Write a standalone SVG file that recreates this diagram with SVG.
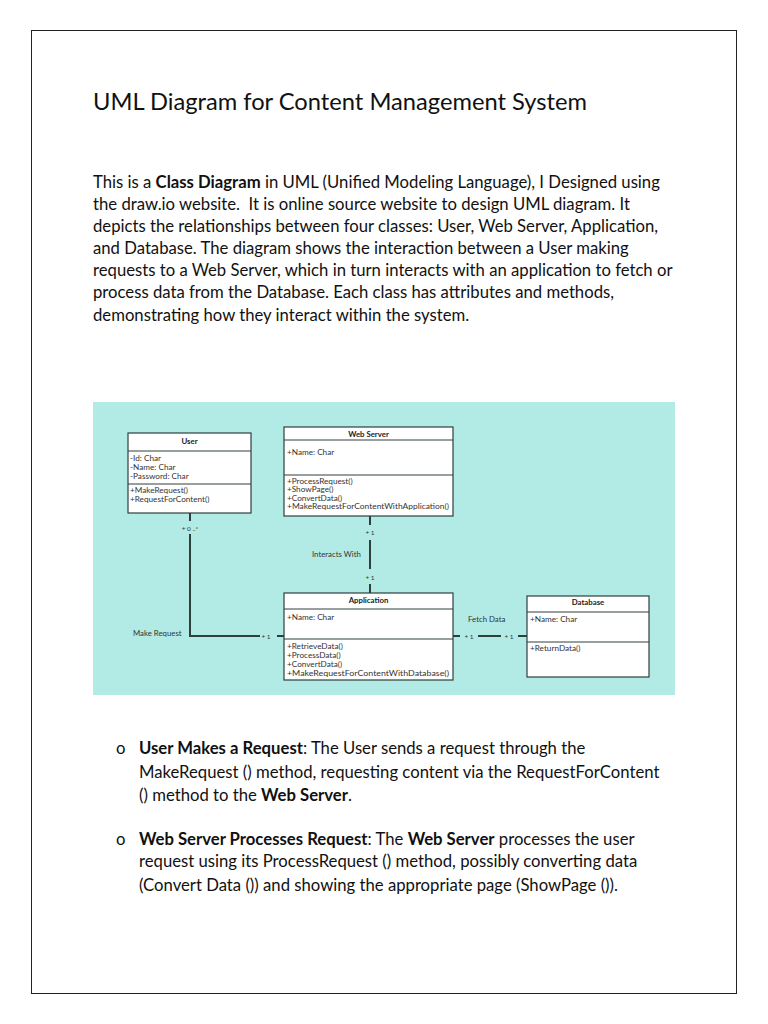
<svg xmlns="http://www.w3.org/2000/svg" width="768" height="1024" viewBox="0 0 768 1024">
<style>
.body{font-family:Lato,"Open Sans","Liberation Sans",sans-serif;font-size:16.7px;fill:#111}
.b{font-weight:bold}
.box{fill:#fff;stroke:#2f3f3f;stroke-width:1.2}
.sep{stroke:#2f3f3f;stroke-width:1}
.hd{font-family:Lato,"Liberation Sans",sans-serif;font-size:7.8px;font-weight:bold;fill:#222;text-anchor:middle}
.it{font-family:Lato,"Liberation Sans",sans-serif;font-size:8.2px;fill:#333}
.lbl{font-family:Lato,"Liberation Sans",sans-serif;font-size:7.8px;fill:#333}
.m{font-family:Lato,"Liberation Sans",sans-serif;font-size:6.5px;fill:#333;text-anchor:middle}
.ln{stroke:#2f3f3f;stroke-width:2;fill:none}
</style>
<rect x="0" y="0" width="768" height="1024" fill="#fff"/>
<rect x="31.5" y="30.5" width="705" height="963" fill="none" stroke="#222" stroke-width="1"/>
<text x="93" y="110" font-family="Lato,'Open Sans','Liberation Sans',sans-serif" font-size="23.7" fill="#111">UML Diagram for Content Management System</text>
<g class="body">
<text x="93" y="188">This is a <tspan class="b">Class Diagram</tspan> in UML (Unified Modeling Language), I Designed using</text>
<text x="93" y="210">the draw.io website.&#160; It is online source website to design UML diagram. It</text>
<text x="93" y="232">depicts the relationships between four classes: User, Web Server, Application,</text>
<text x="93" y="254">and Database. The diagram shows the interaction between a User making</text>
<text x="93" y="276">requests to a Web Server, which in turn interacts with an application to fetch or</text>
<text x="93" y="298">process data from the Database. Each class has attributes and methods,</text>
<text x="93" y="321">demonstrating how they interact within the system.</text>
</g>
<rect x="93" y="402" width="582" height="293" fill="#b2ebe6"/>
<g id="connectors">
<path class="ln" d="M190 513 V521 M190 534 V636 H260 M277 636 H284"/>
<path class="ln" d="M370 516 V525 M370 540 V569 M370 584 V593"/>
<path class="ln" d="M453 636 H460 M478 636 H501 M518 636 H527"/>
<text class="m" x="190" y="531">+ 0 ..*</text>
<text class="m" x="266" y="638.5">+ 1</text>
<text class="m" x="370" y="535">+ 1</text>
<text class="m" x="370" y="580">+ 1</text>
<text class="m" x="469" y="638.5">+ 1</text>
<text class="m" x="509" y="638.5">+ 1</text>
<text class="lbl" x="133" y="636">Make Request</text>
<text class="lbl" x="312" y="557">Interacts With</text>
<text class="lbl" x="468" y="622">Fetch Data</text>
</g>
<g id="user">
<rect class="box" x="128" y="433" width="123" height="80"/>
<line class="sep" x1="128" y1="451" x2="251" y2="451"/>
<line class="sep" x1="128" y1="484" x2="251" y2="484"/>
<text class="hd" x="189.5" y="444">User</text>
<text class="it" x="130" y="461">-Id: Char</text>
<text class="it" x="130" y="470">-Name: Char</text>
<text class="it" x="130" y="479">-Password: Char</text>
<text class="it" x="130" y="493" fill="#222">+MakeRequest()</text>
<text class="it" x="130" y="502">+RequestForContent()</text>
</g>
<g id="webserver">
<rect class="box" x="284" y="427" width="169" height="89"/>
<line class="sep" x1="284" y1="440" x2="453" y2="440"/>
<line class="sep" x1="284" y1="475" x2="453" y2="475"/>
<text class="hd" x="368.5" y="437">Web Server</text>
<text class="it" x="287" y="455">+Name: Char</text>
<text class="it" x="287" y="484">+ProcessRequest()</text>
<text class="it" x="287" y="492.3">+ShowPage()</text>
<text class="it" x="287" y="500.6">+ConvertData()</text>
<text class="it" x="287" y="509" textLength="162" lengthAdjust="spacingAndGlyphs">+MakeRequestForContentWithApplication()</text>
</g>
<g id="application">
<rect class="box" x="284" y="593" width="169" height="87"/>
<line class="sep" x1="284" y1="609" x2="453" y2="609"/>
<line class="sep" x1="284" y1="639" x2="453" y2="639"/>
<text class="hd" x="368.5" y="603">Application</text>
<text class="it" x="287" y="620">+Name: Char</text>
<text class="it" x="287" y="648.5">+RetrieveData()</text>
<text class="it" x="287" y="657.5">+ProcessData()</text>
<text class="it" x="287" y="666.5">+ConvertData()</text>
<text class="it" x="287" y="675.5" textLength="162" lengthAdjust="spacingAndGlyphs">+MakeRequestForContentWithDatabase()</text>
</g>
<g id="database">
<rect class="box" x="527" y="596" width="122" height="81"/>
<line class="sep" x1="527" y1="612" x2="649" y2="612"/>
<line class="sep" x1="527" y1="642" x2="649" y2="642"/>
<text class="hd" x="588" y="605">Database</text>
<text class="it" x="530" y="622">+Name: Char</text>
<text class="it" x="530" y="651">+ReturnData()</text>
</g>
<g class="body">
<text x="116" y="754">o</text>
<text x="139" y="754"><tspan class="b">User Makes a Request</tspan>: The User sends a request through the</text>
<text x="139" y="778">MakeRequest () method, requesting content via the RequestForContent</text>
<text x="139" y="801">() method to the <tspan class="b">Web Server</tspan>.</text>
<text x="116" y="845">o</text>
<text x="139" y="845"><tspan class="b">Web Server Processes Request</tspan>: The <tspan class="b">Web Server</tspan> processes the user</text>
<text x="139" y="867">request using its ProcessRequest () method, possibly converting data</text>
<text x="139" y="891">(Convert Data ()) and showing the appropriate page (ShowPage ()).</text>
</g>
</svg>
